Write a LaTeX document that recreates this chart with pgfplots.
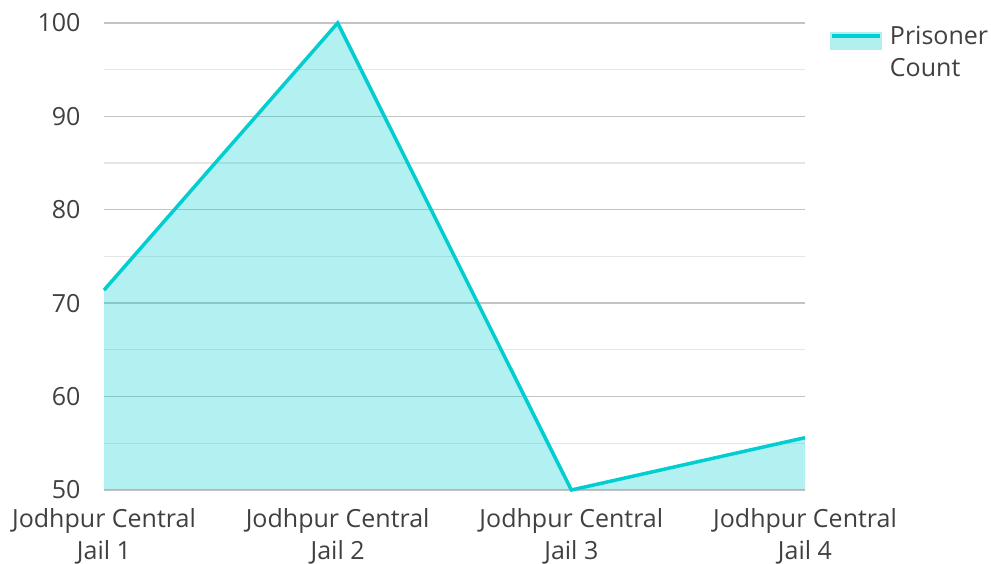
\documentclass[border=0pt]{standalone}
\usepackage{pgfplots}
\pgfplotsset{compat=1.18}
\usepackage{fontspec}
\setmainfont{Open Sans}
\definecolor{lineC}{HTML}{00CED1}
\definecolor{fillC}{HTML}{B2EFEF}
\definecolor{gridMaj}{HTML}{C4C4C4}
\definecolor{gridMin}{HTML}{E6E6E6}
\definecolor{txt}{HTML}{404040}
\begin{document}
\begin{tikzpicture}
\begin{axis}[
  scale only axis, width=701pt, height=467pt,
  at={(0,0)}, anchor=south west,
  xmin=0, xmax=3, ymin=50, ymax=100,
  xtick={0,1,2,3},
  xticklabels={{Jodhpur Central\\Jail 1},{Jodhpur Central\\Jail 2},{Jodhpur Central\\Jail 3},{Jodhpur Central\\Jail 4}},
  xticklabel style={align=center, font=\fontsize{25}{32}\selectfont, text=txt},
  ytick={50,60,...,100}, minor ytick={55,65,...,95},
  yticklabel style={font=\fontsize{25}{30}\selectfont, text=txt},
  /pgf/number format/assume math mode=true,
  ymajorgrids, yminorgrids,
  major grid style={gridMaj, line width=1.4pt},
  minor grid style={gridMin, line width=1.2pt},
  axis line style={draw=none}, tick style={draw=none},
  xtick pos=bottom, ytick pos=left,
  xticklabel shift=15pt, yticklabel shift=20pt,
  clip=false,
  legend style={at={(1,1)}, anchor=north west, xshift=22pt, yshift=1pt, draw=none, fill=none,
    font=\fontsize{25}{32}\selectfont, text=txt, cells={align=left, anchor=west}},
  legend image code/.code={
    \fill[fillC] (0pt,4pt) rectangle (48pt,18pt);
    \draw[lineC, line width=4pt] (0pt,16pt) -- (48pt,16pt);
    \path (54pt,0pt);
  },
]
\addplot[draw=none, fill=lineC, fill opacity=0.3, forget plot] coordinates {(0,71.4) (1,100) (2,50) (3,55.6)} \closedcycle;
\addplot[lineC, line width=3.5pt] coordinates {(0,71.4) (1,100) (2,50) (3,55.6)};
\addlegendentry{Prisoner\\Count}
\coordinate (sw) at (rel axis cs:0,0);
\end{axis}
\pgfresetboundingbox
\path[use as bounding box] ([shift={(-104pt,-74pt)}]sw) rectangle ([shift={(887pt,490pt)}]sw);
\end{tikzpicture}
\end{document}
